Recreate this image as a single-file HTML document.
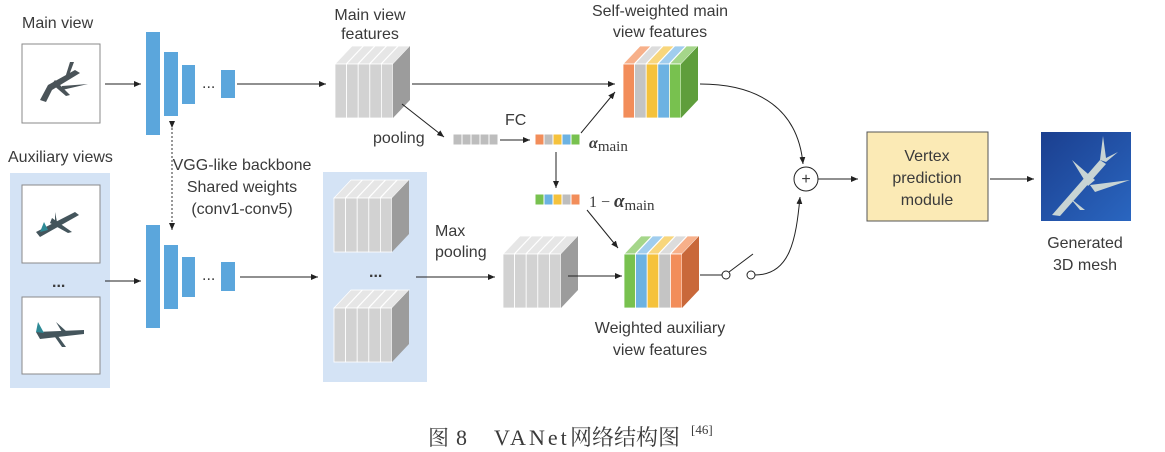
<!DOCTYPE html>
<html><head><meta charset="utf-8"><style>
html,body{margin:0;padding:0;background:#fff;}
svg{display:block;font-family:"Liberation Sans","DejaVu Sans",sans-serif;}
text{fill:#3a3a3a;font-size:16px;}
</style></head><body>
<svg width="1165" height="452" viewBox="0 0 1165 452" xmlns="http://www.w3.org/2000/svg">
<defs>
<marker id="ah" markerWidth="8" markerHeight="8" refX="7" refY="4" orient="auto" markerUnits="userSpaceOnUse">
<path d="M0,1 L7,4 L0,7 z" fill="#222"/></marker>
<symbol id="gcube" overflow="visible">
 <g stroke="#fff" stroke-width="0.8">
 <polygon points="0,18 17,0 28,0 11,18" fill="#e6e6e6"/>
 <polygon points="11.6,18 28.6,0 39.6,0 22.6,18" fill="#e6e6e6"/>
 <polygon points="23.2,18 40.2,0 51.2,0 34.2,18" fill="#e6e6e6"/>
 <polygon points="34.8,18 51.8,0 62.8,0 45.8,18" fill="#e6e6e6"/>
 <polygon points="46.4,18 63.4,0 75,0 58,18" fill="#e6e6e6"/>
 <rect x="0" y="18" width="11.6" height="54" fill="#d2d2d2"/>
 <rect x="11.6" y="18" width="11.6" height="54" fill="#d2d2d2"/>
 <rect x="23.2" y="18" width="11.6" height="54" fill="#d2d2d2"/>
 <rect x="34.8" y="18" width="11.6" height="54" fill="#d2d2d2"/>
 <rect x="46.4" y="18" width="11.6" height="54" fill="#d2d2d2"/>
 </g>
 <polygon points="58,18 75,0 75,54 58,72" fill="#9c9c9c"/>
</symbol>
</defs>

<!-- main view -->
<text x="22" y="28">Main view</text>
<rect x="22" y="44" width="78" height="79" fill="#fff" stroke="#8a8a8a" stroke-width="1"/>
<g fill="#4a5358"><polygon points="40,100 48,85 75,70 80,73 52,90 46,102"/><polygon points="55,80 70,95 66,96 52,84"/><polygon points="70,62 74,62 68,78 65,78"/><polygon points="62,86 88,84 62,90"/></g>
<text x="8" y="162">Auxiliary views</text>
<rect x="10" y="173" width="100" height="215" fill="#d4e3f5"/>
<rect x="22" y="185" width="78" height="78" fill="#fff" stroke="#8a8a8a"/>
<rect x="22" y="297" width="78" height="77" fill="#fff" stroke="#8a8a8a"/>
<g fill="#44555c"><polygon points="36,232 75,212 79,215 40,237"/><polygon points="52,218 72,232 68,233 50,223"/><polygon points="55,212 58,227 55,227"/></g>
<polygon points="40,232 44,222 48,230" fill="#2e8a96"/>
<g fill="#44555c"><polygon points="36,332 84,330 84,334 40,339"/><polygon points="56,322 66,331 62,332"/><polygon points="58,336 66,347 62,347 55,337"/></g>
<polygon points="36,332 38,322 44,333" fill="#2e8a96"/>
<text x="52" y="287" font-size="14" font-weight="bold">...</text>

<!-- backbone -->
<g fill="#5ba6dc">
<rect x="146" y="32" width="14" height="103"/><rect x="164" y="52" width="14" height="64"/><rect x="182" y="65" width="13" height="39"/><rect x="221" y="70" width="14" height="28"/>
<rect x="146" y="225" width="14" height="103"/><rect x="164" y="245" width="14" height="64"/><rect x="182" y="257" width="13" height="40"/><rect x="221" y="262" width="14" height="29"/>
</g>
<text x="202" y="88" font-size="13">...</text>
<text x="202" y="280" font-size="13">...</text>
<line x1="172" y1="128" x2="172" y2="230" stroke="#333" stroke-dasharray="2,2" marker-start="url(#ah)" marker-end="url(#ah)"/>
<text x="242" y="170" text-anchor="middle">VGG-like backbone</text>
<text x="242" y="192" text-anchor="middle">Shared weights</text>
<text x="242" y="214" text-anchor="middle">(conv1-conv5)</text>

<g stroke="#222" stroke-width="1" fill="none">
<line x1="105" y1="84" x2="141" y2="84" marker-end="url(#ah)"/>
<line x1="237" y1="84" x2="326" y2="84" marker-end="url(#ah)"/>
<line x1="105" y1="281" x2="141" y2="281" marker-end="url(#ah)"/>
<line x1="240" y1="277" x2="318" y2="277" marker-end="url(#ah)"/>
</g>

<!-- main features -->
<text x="370" y="20" text-anchor="middle">Main view</text>
<text x="370" y="39" text-anchor="middle">features</text>
<use href="#gcube" x="335" y="46"/>
<!-- aux panel -->
<rect x="323" y="172" width="104" height="210" fill="#d4e3f5"/>
<use href="#gcube" x="334" y="180"/>
<use href="#gcube" x="334" y="290"/>
<text x="369" y="277" font-size="13" font-weight="bold">...</text>
<text x="435" y="236">Max</text>
<text x="435" y="257">pooling</text>
<use href="#gcube" x="503" y="236"/>

<g stroke="#222" stroke-width="1" fill="none">
<line x1="412" y1="84" x2="615" y2="84" marker-end="url(#ah)"/>
<line x1="402" y1="104" x2="444" y2="137" marker-end="url(#ah)"/>
<line x1="500" y1="140" x2="530" y2="140" marker-end="url(#ah)"/>
<line x1="581" y1="133" x2="615" y2="92" marker-end="url(#ah)"/>
<line x1="556" y1="152" x2="556" y2="188" marker-end="url(#ah)"/>
<line x1="587" y1="210" x2="618" y2="248" marker-end="url(#ah)"/>
<line x1="416" y1="277" x2="495" y2="277" marker-end="url(#ah)"/>
<line x1="568" y1="276" x2="622" y2="276" marker-end="url(#ah)"/>
</g>
<text x="373" y="143">pooling</text>
<text x="505" y="125">FC</text>
<g stroke="#fff" stroke-width="1">
<rect x="453" y="134" width="9" height="11" fill="#bdbdbd"/><rect x="462" y="134" width="9" height="11" fill="#bdbdbd"/><rect x="471" y="134" width="9" height="11" fill="#bdbdbd"/><rect x="480" y="134" width="9" height="11" fill="#bdbdbd"/><rect x="489" y="134" width="9" height="11" fill="#bdbdbd"/>
<rect x="535" y="134" width="9" height="11" fill="#f28d5a"/><rect x="544" y="134" width="9" height="11" fill="#bdbdbd"/><rect x="553" y="134" width="9" height="11" fill="#f5c23c"/><rect x="562" y="134" width="9" height="11" fill="#6cb2e2"/><rect x="571" y="134" width="9" height="11" fill="#78c14f"/>
<rect x="535" y="194" width="9" height="11" fill="#78c14f"/><rect x="544" y="194" width="9" height="11" fill="#6cb2e2"/><rect x="553" y="194" width="9" height="11" fill="#f5c23c"/><rect x="562" y="194" width="9" height="11" fill="#bdbdbd"/><rect x="571" y="194" width="9" height="11" fill="#f28d5a"/>
</g>
<text x="589" y="148" font-family="Liberation Serif,serif" font-size="19" font-weight="bold" font-style="italic" fill="#222">α<tspan font-size="15" font-style="normal" font-weight="normal" dy="3">main</tspan></text>
<text x="589" y="207" font-family="Liberation Serif,serif" font-size="18" fill="#222">1 − <tspan font-weight="bold" font-style="italic" font-size="19">α</tspan><tspan font-size="15" dy="3">main</tspan></text>

<!-- colored top cube -->
<text x="660" y="16" text-anchor="middle">Self-weighted main</text>
<text x="660" y="37" text-anchor="middle">view features</text>
<g transform="translate(623,46)" stroke="#fff" stroke-width="0.8">
<polygon points="0,18 17,0 28,0 11,18" fill="#f7b08a"/>
<polygon points="11.6,18 28.6,0 39.6,0 22.6,18" fill="#dcdcdc"/>
<polygon points="23.2,18 40.2,0 51.2,0 34.2,18" fill="#f8d67c"/>
<polygon points="34.8,18 51.8,0 62.8,0 45.8,18" fill="#a0cdee"/>
<polygon points="46.4,18 63.4,0 75,0 58,18" fill="#a5d68a"/>
<rect x="0" y="18" width="11.6" height="54" fill="#f28d5a"/>
<rect x="11.6" y="18" width="11.6" height="54" fill="#c4c4c4"/>
<rect x="23.2" y="18" width="11.6" height="54" fill="#f5c23c"/>
<rect x="34.8" y="18" width="11.6" height="54" fill="#6cb2e2"/>
<rect x="46.4" y="18" width="11.6" height="54" fill="#78c14f"/>
<polygon points="58,18 75,0 75,54 58,72" fill="#5f9e3c" stroke="none"/>
</g>
<!-- colored bottom cube -->
<g transform="translate(624,236)" stroke="#fff" stroke-width="0.8">
<polygon points="0,18 17,0 28,0 11,18" fill="#a5d68a"/>
<polygon points="11.6,18 28.6,0 39.6,0 22.6,18" fill="#a0cdee"/>
<polygon points="23.2,18 40.2,0 51.2,0 34.2,18" fill="#f8d67c"/>
<polygon points="34.8,18 51.8,0 62.8,0 45.8,18" fill="#dcdcdc"/>
<polygon points="46.4,18 63.4,0 75,0 58,18" fill="#f7b08a"/>
<rect x="0" y="18" width="11.6" height="54" fill="#78c14f"/>
<rect x="11.6" y="18" width="11.6" height="54" fill="#6cb2e2"/>
<rect x="23.2" y="18" width="11.6" height="54" fill="#f5c23c"/>
<rect x="34.8" y="18" width="11.6" height="54" fill="#c4c4c4"/>
<rect x="46.4" y="18" width="11.6" height="54" fill="#f28d5a"/>
<polygon points="58,18 75,0 75,54 58,72" fill="#c9683a" stroke="none"/>
</g>
<text x="660" y="333" text-anchor="middle">Weighted auxiliary</text>
<text x="660" y="355" text-anchor="middle">view features</text>

<!-- switch & plus -->
<g stroke="#222" stroke-width="1" fill="none">
<line x1="700" y1="275" x2="722" y2="275"/>
<circle cx="726" cy="275" r="4" fill="#fff"/>
<circle cx="751" cy="275" r="4" fill="#fff"/>
<line x1="729" y1="272" x2="753" y2="254"/>
<path d="M755,275 C790,275 796,240 800,197" marker-end="url(#ah)"/>
<path d="M700,84 C760,84 798,110 803,164" marker-end="url(#ah)"/>
<circle cx="806" cy="179" r="12" fill="#fff"/>
<line x1="818" y1="179" x2="858" y2="179" marker-end="url(#ah)"/>
<line x1="990" y1="179" x2="1034" y2="179" marker-end="url(#ah)"/>
</g>
<text x="806" y="184" text-anchor="middle" font-size="14" fill="#222">+</text>
<rect x="867" y="132" width="121" height="89" fill="#fbeab5" stroke="#555"/>
<text x="927" y="161" text-anchor="middle">Vertex</text>
<text x="927" y="183" text-anchor="middle">prediction</text>
<text x="927" y="205" text-anchor="middle">module</text>
<defs><linearGradient id="bg" x1="0" y1="0" x2="1" y2="1"><stop offset="0" stop-color="#1b3f8f"/><stop offset="1" stop-color="#2a66c0"/></linearGradient></defs>
<rect x="1041" y="132" width="90" height="89" fill="url(#bg)"/>
<g fill="#c8d4d4"><polygon points="1052,215 1100,160 1106,164 1060,216"/><polygon points="1072,160 1095,180 1088,186"/><polygon points="1090,185 1130,180 1095,192"/><polygon points="1100,160 1103,136 1106,158 1118,152 1106,162"/><polygon points="1070,198 1085,210 1080,210"/></g>
<text x="1085" y="248" text-anchor="middle">Generated</text>
<text x="1085" y="270" text-anchor="middle">3D mesh</text>

<g font-family="'Noto Serif CJK SC','Liberation Serif',serif" fill="#222">
<text x="428" y="445" style="font-size:21px" fill="#333">图</text>
<text x="456" y="445" style="font-size:22px;font-family:'Liberation Serif',serif" fill="#333">8</text>
<text x="494" y="445" style="font-size:22px;font-family:'Liberation Serif',serif;letter-spacing:3px" fill="#333">VANet</text>
<text x="570" y="445" style="font-size:22px" fill="#333">网络结构图</text>
<text x="691" y="434" style="font-size:13px;font-family:'Liberation Serif',serif" fill="#333">[46]</text>
</g>
</svg>
</body></html>
